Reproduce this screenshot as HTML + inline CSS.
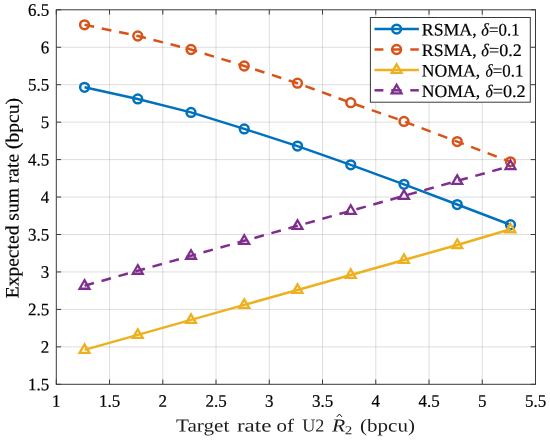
<!DOCTYPE html><html><head><meta charset="utf-8"><title>plot</title><style>html,body{margin:0;padding:0;background:#fff}svg{display:block}text{font-family:"Liberation Serif",serif;fill:#000;stroke:#000;stroke-width:0.2px}.xl{stroke:none;fill:#1c1c1c}</style></head><body>
<svg width="550" height="441" viewBox="0 0 550 441">
<rect width="550" height="441" fill="#fff"/>
<line x1="109.54" y1="9.8" x2="109.54" y2="384.3" stroke="#000" stroke-opacity="0.135" stroke-width="1"/>
<line x1="162.79" y1="9.8" x2="162.79" y2="384.3" stroke="#000" stroke-opacity="0.135" stroke-width="1"/>
<line x1="216.03" y1="9.8" x2="216.03" y2="384.3" stroke="#000" stroke-opacity="0.135" stroke-width="1"/>
<line x1="269.28" y1="9.8" x2="269.28" y2="384.3" stroke="#000" stroke-opacity="0.135" stroke-width="1"/>
<line x1="322.52" y1="9.8" x2="322.52" y2="384.3" stroke="#000" stroke-opacity="0.135" stroke-width="1"/>
<line x1="375.77" y1="9.8" x2="375.77" y2="384.3" stroke="#000" stroke-opacity="0.135" stroke-width="1"/>
<line x1="429.01" y1="9.8" x2="429.01" y2="384.3" stroke="#000" stroke-opacity="0.135" stroke-width="1"/>
<line x1="482.26" y1="9.8" x2="482.26" y2="384.3" stroke="#000" stroke-opacity="0.135" stroke-width="1"/>
<line x1="56.3" y1="346.85" x2="535.5" y2="346.85" stroke="#000" stroke-opacity="0.135" stroke-width="1"/>
<line x1="56.3" y1="309.40" x2="535.5" y2="309.40" stroke="#000" stroke-opacity="0.135" stroke-width="1"/>
<line x1="56.3" y1="271.95" x2="535.5" y2="271.95" stroke="#000" stroke-opacity="0.135" stroke-width="1"/>
<line x1="56.3" y1="234.50" x2="535.5" y2="234.50" stroke="#000" stroke-opacity="0.135" stroke-width="1"/>
<line x1="56.3" y1="197.05" x2="535.5" y2="197.05" stroke="#000" stroke-opacity="0.135" stroke-width="1"/>
<line x1="56.3" y1="159.60" x2="535.5" y2="159.60" stroke="#000" stroke-opacity="0.135" stroke-width="1"/>
<line x1="56.3" y1="122.15" x2="535.5" y2="122.15" stroke="#000" stroke-opacity="0.135" stroke-width="1"/>
<line x1="56.3" y1="84.70" x2="535.5" y2="84.70" stroke="#000" stroke-opacity="0.135" stroke-width="1"/>
<line x1="56.3" y1="47.25" x2="535.5" y2="47.25" stroke="#000" stroke-opacity="0.135" stroke-width="1"/>
<polyline points="84.52,87.32 137.76,98.93 191.01,112.41 244.25,128.89 297.50,146.12 350.74,164.84 403.99,184.32 457.23,204.54 510.48,224.76" fill="none" stroke="#0072BD" stroke-width="2.5"/>
<circle cx="84.52" cy="87.32" r="4.4" fill="none" stroke="#0072BD" stroke-width="2.5"/>
<circle cx="137.76" cy="98.93" r="4.4" fill="none" stroke="#0072BD" stroke-width="2.5"/>
<circle cx="191.01" cy="112.41" r="4.4" fill="none" stroke="#0072BD" stroke-width="2.5"/>
<circle cx="244.25" cy="128.89" r="4.4" fill="none" stroke="#0072BD" stroke-width="2.5"/>
<circle cx="297.50" cy="146.12" r="4.4" fill="none" stroke="#0072BD" stroke-width="2.5"/>
<circle cx="350.74" cy="164.84" r="4.4" fill="none" stroke="#0072BD" stroke-width="2.5"/>
<circle cx="403.99" cy="184.32" r="4.4" fill="none" stroke="#0072BD" stroke-width="2.5"/>
<circle cx="457.23" cy="204.54" r="4.4" fill="none" stroke="#0072BD" stroke-width="2.5"/>
<circle cx="510.48" cy="224.76" r="4.4" fill="none" stroke="#0072BD" stroke-width="2.5"/>
<polyline points="84.52,24.78 137.76,36.01 191.01,49.50 244.25,65.98 297.50,83.20 350.74,102.68 403.99,121.40 457.23,141.62 510.48,161.85" fill="none" stroke="#D95319" stroke-width="2.5" stroke-dasharray="9.8,7.85" stroke-dashoffset="0"/>
<circle cx="84.52" cy="24.78" r="4.4" fill="none" stroke="#D95319" stroke-width="2.5"/>
<circle cx="137.76" cy="36.01" r="4.4" fill="none" stroke="#D95319" stroke-width="2.5"/>
<circle cx="191.01" cy="49.50" r="4.4" fill="none" stroke="#D95319" stroke-width="2.5"/>
<circle cx="244.25" cy="65.98" r="4.4" fill="none" stroke="#D95319" stroke-width="2.5"/>
<circle cx="297.50" cy="83.20" r="4.4" fill="none" stroke="#D95319" stroke-width="2.5"/>
<circle cx="350.74" cy="102.68" r="4.4" fill="none" stroke="#D95319" stroke-width="2.5"/>
<circle cx="403.99" cy="121.40" r="4.4" fill="none" stroke="#D95319" stroke-width="2.5"/>
<circle cx="457.23" cy="141.62" r="4.4" fill="none" stroke="#D95319" stroke-width="2.5"/>
<circle cx="510.48" cy="161.85" r="4.4" fill="none" stroke="#D95319" stroke-width="2.5"/>
<polyline points="84.52,349.85 137.76,334.87 191.01,319.89 244.25,304.91 297.50,289.93 350.74,274.95 403.99,259.97 457.23,244.99 510.48,229.26" fill="none" stroke="#EDB120" stroke-width="2.5"/>
<path d="M84.52,344.30 L89.46,352.85 L79.58,352.85 Z" fill="none" stroke="#EDB120" stroke-width="2.3" stroke-linejoin="miter"/>
<path d="M137.76,329.32 L142.70,337.87 L132.83,337.87 Z" fill="none" stroke="#EDB120" stroke-width="2.3" stroke-linejoin="miter"/>
<path d="M191.01,314.34 L195.94,322.89 L186.07,322.89 Z" fill="none" stroke="#EDB120" stroke-width="2.3" stroke-linejoin="miter"/>
<path d="M244.25,299.36 L249.19,307.91 L239.32,307.91 Z" fill="none" stroke="#EDB120" stroke-width="2.3" stroke-linejoin="miter"/>
<path d="M297.50,284.38 L302.43,292.93 L292.56,292.93 Z" fill="none" stroke="#EDB120" stroke-width="2.3" stroke-linejoin="miter"/>
<path d="M350.74,269.40 L355.68,277.95 L345.81,277.95 Z" fill="none" stroke="#EDB120" stroke-width="2.3" stroke-linejoin="miter"/>
<path d="M403.99,254.42 L408.92,262.97 L399.05,262.97 Z" fill="none" stroke="#EDB120" stroke-width="2.3" stroke-linejoin="miter"/>
<path d="M457.23,239.44 L462.17,247.99 L452.29,247.99 Z" fill="none" stroke="#EDB120" stroke-width="2.3" stroke-linejoin="miter"/>
<path d="M510.48,223.71 L515.41,232.26 L505.54,232.26 Z" fill="none" stroke="#EDB120" stroke-width="2.3" stroke-linejoin="miter"/>
<polyline points="84.52,285.73 137.76,270.75 191.01,255.77 244.25,240.79 297.50,225.81 350.74,210.83 403.99,195.85 457.23,180.87 510.48,166.04" fill="none" stroke="#7E2F8E" stroke-width="2.5" stroke-dasharray="9.8,7.85" stroke-dashoffset="0"/>
<path d="M84.52,280.18 L89.46,288.73 L79.58,288.73 Z" fill="none" stroke="#7E2F8E" stroke-width="2.3" stroke-linejoin="miter"/>
<path d="M137.76,265.20 L142.70,273.75 L132.83,273.75 Z" fill="none" stroke="#7E2F8E" stroke-width="2.3" stroke-linejoin="miter"/>
<path d="M191.01,250.22 L195.94,258.77 L186.07,258.77 Z" fill="none" stroke="#7E2F8E" stroke-width="2.3" stroke-linejoin="miter"/>
<path d="M244.25,235.24 L249.19,243.79 L239.32,243.79 Z" fill="none" stroke="#7E2F8E" stroke-width="2.3" stroke-linejoin="miter"/>
<path d="M297.50,220.26 L302.43,228.81 L292.56,228.81 Z" fill="none" stroke="#7E2F8E" stroke-width="2.3" stroke-linejoin="miter"/>
<path d="M350.74,205.28 L355.68,213.83 L345.81,213.83 Z" fill="none" stroke="#7E2F8E" stroke-width="2.3" stroke-linejoin="miter"/>
<path d="M403.99,190.30 L408.92,198.85 L399.05,198.85 Z" fill="none" stroke="#7E2F8E" stroke-width="2.3" stroke-linejoin="miter"/>
<path d="M457.23,175.32 L462.17,183.87 L452.29,183.87 Z" fill="none" stroke="#7E2F8E" stroke-width="2.3" stroke-linejoin="miter"/>
<path d="M510.48,160.49 L515.41,169.04 L505.54,169.04 Z" fill="none" stroke="#7E2F8E" stroke-width="2.3" stroke-linejoin="miter"/>
<rect x="56.3" y="9.8" width="479.2" height="374.5" fill="none" stroke="#3a3a3a" stroke-width="1"/>
<line x1="56.30" y1="384.3" x2="56.30" y2="379.5" stroke="#3a3a3a" stroke-width="1"/>
<line x1="56.30" y1="9.8" x2="56.30" y2="14.600000000000001" stroke="#3a3a3a" stroke-width="1"/>
<text transform="translate(56.30,406.85) rotate(0.05) scale(0.965,1)" font-size="17.6" text-anchor="middle">1</text>
<line x1="109.54" y1="384.3" x2="109.54" y2="379.5" stroke="#3a3a3a" stroke-width="1"/>
<line x1="109.54" y1="9.8" x2="109.54" y2="14.600000000000001" stroke="#3a3a3a" stroke-width="1"/>
<text transform="translate(109.54,406.85) rotate(0.05) scale(0.965,1)" font-size="17.6" text-anchor="middle">1.5</text>
<line x1="162.79" y1="384.3" x2="162.79" y2="379.5" stroke="#3a3a3a" stroke-width="1"/>
<line x1="162.79" y1="9.8" x2="162.79" y2="14.600000000000001" stroke="#3a3a3a" stroke-width="1"/>
<text transform="translate(162.79,406.85) rotate(0.05) scale(0.965,1)" font-size="17.6" text-anchor="middle">2</text>
<line x1="216.03" y1="384.3" x2="216.03" y2="379.5" stroke="#3a3a3a" stroke-width="1"/>
<line x1="216.03" y1="9.8" x2="216.03" y2="14.600000000000001" stroke="#3a3a3a" stroke-width="1"/>
<text transform="translate(216.03,406.85) rotate(0.05) scale(0.965,1)" font-size="17.6" text-anchor="middle">2.5</text>
<line x1="269.28" y1="384.3" x2="269.28" y2="379.5" stroke="#3a3a3a" stroke-width="1"/>
<line x1="269.28" y1="9.8" x2="269.28" y2="14.600000000000001" stroke="#3a3a3a" stroke-width="1"/>
<text transform="translate(269.28,406.85) rotate(0.05) scale(0.965,1)" font-size="17.6" text-anchor="middle">3</text>
<line x1="322.52" y1="384.3" x2="322.52" y2="379.5" stroke="#3a3a3a" stroke-width="1"/>
<line x1="322.52" y1="9.8" x2="322.52" y2="14.600000000000001" stroke="#3a3a3a" stroke-width="1"/>
<text transform="translate(322.52,406.85) rotate(0.05) scale(0.965,1)" font-size="17.6" text-anchor="middle">3.5</text>
<line x1="375.77" y1="384.3" x2="375.77" y2="379.5" stroke="#3a3a3a" stroke-width="1"/>
<line x1="375.77" y1="9.8" x2="375.77" y2="14.600000000000001" stroke="#3a3a3a" stroke-width="1"/>
<text transform="translate(375.77,406.85) rotate(0.05) scale(0.965,1)" font-size="17.6" text-anchor="middle">4</text>
<line x1="429.01" y1="384.3" x2="429.01" y2="379.5" stroke="#3a3a3a" stroke-width="1"/>
<line x1="429.01" y1="9.8" x2="429.01" y2="14.600000000000001" stroke="#3a3a3a" stroke-width="1"/>
<text transform="translate(429.01,406.85) rotate(0.05) scale(0.965,1)" font-size="17.6" text-anchor="middle">4.5</text>
<line x1="482.26" y1="384.3" x2="482.26" y2="379.5" stroke="#3a3a3a" stroke-width="1"/>
<line x1="482.26" y1="9.8" x2="482.26" y2="14.600000000000001" stroke="#3a3a3a" stroke-width="1"/>
<text transform="translate(482.26,406.85) rotate(0.05) scale(0.965,1)" font-size="17.6" text-anchor="middle">5</text>
<line x1="535.50" y1="384.3" x2="535.50" y2="379.5" stroke="#3a3a3a" stroke-width="1"/>
<line x1="535.50" y1="9.8" x2="535.50" y2="14.600000000000001" stroke="#3a3a3a" stroke-width="1"/>
<text transform="translate(535.50,406.85) rotate(0.05) scale(0.965,1)" font-size="17.6" text-anchor="middle">5.5</text>
<line x1="56.3" y1="384.30" x2="61.099999999999994" y2="384.30" stroke="#3a3a3a" stroke-width="1"/>
<line x1="535.5" y1="384.30" x2="530.7" y2="384.30" stroke="#3a3a3a" stroke-width="1"/>
<text transform="translate(49.2,390.20) rotate(0.05) scale(0.965,1)" font-size="17.6" text-anchor="end">1.5</text>
<line x1="56.3" y1="346.85" x2="61.099999999999994" y2="346.85" stroke="#3a3a3a" stroke-width="1"/>
<line x1="535.5" y1="346.85" x2="530.7" y2="346.85" stroke="#3a3a3a" stroke-width="1"/>
<text transform="translate(49.2,352.75) rotate(0.05) scale(0.965,1)" font-size="17.6" text-anchor="end">2</text>
<line x1="56.3" y1="309.40" x2="61.099999999999994" y2="309.40" stroke="#3a3a3a" stroke-width="1"/>
<line x1="535.5" y1="309.40" x2="530.7" y2="309.40" stroke="#3a3a3a" stroke-width="1"/>
<text transform="translate(49.2,315.30) rotate(0.05) scale(0.965,1)" font-size="17.6" text-anchor="end">2.5</text>
<line x1="56.3" y1="271.95" x2="61.099999999999994" y2="271.95" stroke="#3a3a3a" stroke-width="1"/>
<line x1="535.5" y1="271.95" x2="530.7" y2="271.95" stroke="#3a3a3a" stroke-width="1"/>
<text transform="translate(49.2,277.85) rotate(0.05) scale(0.965,1)" font-size="17.6" text-anchor="end">3</text>
<line x1="56.3" y1="234.50" x2="61.099999999999994" y2="234.50" stroke="#3a3a3a" stroke-width="1"/>
<line x1="535.5" y1="234.50" x2="530.7" y2="234.50" stroke="#3a3a3a" stroke-width="1"/>
<text transform="translate(49.2,240.40) rotate(0.05) scale(0.965,1)" font-size="17.6" text-anchor="end">3.5</text>
<line x1="56.3" y1="197.05" x2="61.099999999999994" y2="197.05" stroke="#3a3a3a" stroke-width="1"/>
<line x1="535.5" y1="197.05" x2="530.7" y2="197.05" stroke="#3a3a3a" stroke-width="1"/>
<text transform="translate(49.2,202.95) rotate(0.05) scale(0.965,1)" font-size="17.6" text-anchor="end">4</text>
<line x1="56.3" y1="159.60" x2="61.099999999999994" y2="159.60" stroke="#3a3a3a" stroke-width="1"/>
<line x1="535.5" y1="159.60" x2="530.7" y2="159.60" stroke="#3a3a3a" stroke-width="1"/>
<text transform="translate(49.2,165.50) rotate(0.05) scale(0.965,1)" font-size="17.6" text-anchor="end">4.5</text>
<line x1="56.3" y1="122.15" x2="61.099999999999994" y2="122.15" stroke="#3a3a3a" stroke-width="1"/>
<line x1="535.5" y1="122.15" x2="530.7" y2="122.15" stroke="#3a3a3a" stroke-width="1"/>
<text transform="translate(49.2,128.05) rotate(0.05) scale(0.965,1)" font-size="17.6" text-anchor="end">5</text>
<line x1="56.3" y1="84.70" x2="61.099999999999994" y2="84.70" stroke="#3a3a3a" stroke-width="1"/>
<line x1="535.5" y1="84.70" x2="530.7" y2="84.70" stroke="#3a3a3a" stroke-width="1"/>
<text transform="translate(49.2,90.60) rotate(0.05) scale(0.965,1)" font-size="17.6" text-anchor="end">5.5</text>
<line x1="56.3" y1="47.25" x2="61.099999999999994" y2="47.25" stroke="#3a3a3a" stroke-width="1"/>
<line x1="535.5" y1="47.25" x2="530.7" y2="47.25" stroke="#3a3a3a" stroke-width="1"/>
<text transform="translate(49.2,53.15) rotate(0.05) scale(0.965,1)" font-size="17.6" text-anchor="end">6</text>
<line x1="56.3" y1="9.80" x2="61.099999999999994" y2="9.80" stroke="#3a3a3a" stroke-width="1"/>
<line x1="535.5" y1="9.80" x2="530.7" y2="9.80" stroke="#3a3a3a" stroke-width="1"/>
<text transform="translate(49.2,15.70) rotate(0.05) scale(0.965,1)" font-size="17.6" text-anchor="end">6.5</text>
<text transform="translate(175.98,431.50) rotate(0.05) scale(1.1628,1)" font-size="18.2" class="xl">Target</text>
<text transform="translate(236.94,431.50) rotate(0.05) scale(1.2624,1)" font-size="18.2" class="xl">rate</text>
<text transform="translate(276.56,431.50) rotate(0.05) scale(1.1473,1)" font-size="18.2" class="xl">of</text>
<text transform="translate(302.24,431.50) rotate(0.05) scale(0.9981,1)" font-size="18.2" class="xl">U2</text>
<text transform="translate(332.11,431.50) rotate(0.05) scale(1.1905,1)" font-size="18.2" font-style="italic" class="xl">R</text>
<path d="M336.8,416.9 L339.4,414.1 L342,416.9" fill="none" stroke="#000" stroke-width="1"/>
<text transform="translate(344.72,434.20) rotate(0.05) scale(1.2195,1)" font-size="12.3" class="xl">2</text>
<text transform="translate(360.05,431.50) rotate(0.05) scale(1.1556,1)" font-size="18.2" class="xl">(bpcu)</text>
<text transform="translate(18.5,297.7) rotate(-90) translate(-0.59,0.00) rotate(0.05) scale(1.0299,1)" font-size="19.0" >Expected sum rate (bpcu)</text>
<rect x="370.4" y="17.5" width="159.89999999999998" height="84.7" fill="#fff" stroke="#3a3a3a" stroke-width="1"/>
<line x1="374.5" y1="29.10" x2="418.9" y2="29.10" stroke="#0072BD" stroke-width="2.5"/>
<circle cx="396.60" cy="29.10" r="4.4" fill="none" stroke="#0072BD" stroke-width="2.5"/>
<text transform="translate(421.77,35.40) rotate(0.05) scale(1.0109,1)" font-size="17.6" >RSMA,</text>
<text transform="translate(481.31,35.40) rotate(0.05) scale(0.9321,1)" font-size="17.6" font-style="italic">δ</text>
<text transform="translate(489.06,35.40) rotate(0.05) scale(0.9597,1)" font-size="17.6" >=0.1</text>
<line x1="374.5" y1="49.50" x2="383.4" y2="49.50" stroke="#D95319" stroke-width="2.5"/>
<line x1="391.3" y1="49.50" x2="401.5" y2="49.50" stroke="#D95319" stroke-width="2.5"/>
<line x1="410.3" y1="49.50" x2="418.8" y2="49.50" stroke="#D95319" stroke-width="2.5"/>
<circle cx="396.60" cy="49.50" r="4.4" fill="none" stroke="#D95319" stroke-width="2.5"/>
<text transform="translate(421.77,55.90) rotate(0.05) scale(1.0109,1)" font-size="17.6" >RSMA,</text>
<text transform="translate(481.31,55.90) rotate(0.05) scale(0.9321,1)" font-size="17.6" font-style="italic">δ</text>
<text transform="translate(489.00,55.90) rotate(0.05) scale(1.0267,1)" font-size="17.6" >=0.2</text>
<line x1="374.5" y1="69.90" x2="418.9" y2="69.90" stroke="#EDB120" stroke-width="2.5"/>
<path d="M396.60,64.35 L401.54,72.90 L391.66,72.90 Z" fill="none" stroke="#EDB120" stroke-width="2.3" stroke-linejoin="miter"/>
<text transform="translate(421.77,76.40) rotate(0.05) scale(1.0056,1)" font-size="17.6" >NOMA,</text>
<text transform="translate(485.53,76.40) rotate(0.05) scale(0.8938,1)" font-size="17.6" font-style="italic">δ</text>
<text transform="translate(492.76,76.40) rotate(0.05) scale(0.9597,1)" font-size="17.6" >=0.1</text>
<line x1="374.5" y1="90.30" x2="383.4" y2="90.30" stroke="#7E2F8E" stroke-width="2.5"/>
<line x1="391.3" y1="90.30" x2="401.5" y2="90.30" stroke="#7E2F8E" stroke-width="2.5"/>
<line x1="410.3" y1="90.30" x2="418.8" y2="90.30" stroke="#7E2F8E" stroke-width="2.5"/>
<path d="M396.60,84.75 L401.54,93.30 L391.66,93.30 Z" fill="none" stroke="#7E2F8E" stroke-width="2.3" stroke-linejoin="miter"/>
<text transform="translate(421.77,96.90) rotate(0.05) scale(1.0056,1)" font-size="17.6" >NOMA,</text>
<text transform="translate(485.53,96.90) rotate(0.05) scale(0.8938,1)" font-size="17.6" font-style="italic">δ</text>
<text transform="translate(492.69,96.90) rotate(0.05) scale(1.0300,1)" font-size="17.6" >=0.2</text>
</svg></body></html>
